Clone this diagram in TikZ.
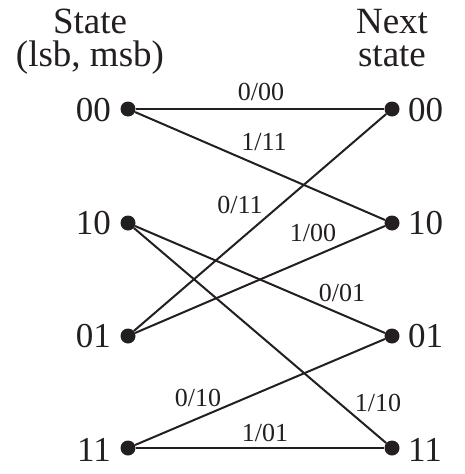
\documentclass[tikz,border=0pt]{standalone}
\usepackage{fontspec}
\setmainfont{Liberation Serif}
\usepackage{tikz}
\usetikzlibrary{positioning,calc}
\usepackage{xcolor}
\definecolor{ink}{RGB}{35, 31, 32}

\begin{document}
\begin{tikzpicture}[
    x=1pt, y=-1pt,
    dot/.style={circle, fill=ink, inner sep=0pt, minimum size=15pt},
    edge/.style={draw=ink, line width=2pt},
    statelbl/.style={font=\fontsize{35}{38}\selectfont, text=ink, inner sep=0pt},
    headlbl/.style={font=\fontsize{37}{40}\selectfont, text=ink, inner sep=0pt, anchor=base},
    lbl/.style={font=\fontsize{26}{28}\selectfont, text=ink, inner sep=0pt, anchor=base},
]
\useasboundingbox (0,0) rectangle (464,474);

% === HEADERS ===
\node[headlbl] (hs1) at (90, 33) {State};
\node[headlbl] (hs2) at (90, 66.5) {(lsb, msb)};
\node[headlbl] (hn1) at (392, 33) {Next};
\node[headlbl] (hn2) at (392, 66.5) {state};

% === CURRENT STATES ===
\node[dot] (s00) at (128, 109) {};
\node[dot] (s10) at (128, 223) {};
\node[dot] (s01) at (128, 336) {};
\node[dot] (s11) at (128, 448) {};
\node[statelbl, anchor=base east] (t00) at (111, 121.5) {00};
\node[statelbl, anchor=base east] (t10) at (111, 234.5) {10};
\node[statelbl, anchor=base east] (t01) at (111, 347.5) {01};
\node[statelbl, anchor=base east] (t11) at (111, 461) {11};

% === NEXT STATES ===
\node[dot] (n00) at (392, 109) {};
\node[dot] (n10) at (392, 223) {};
\node[dot] (n01) at (392, 336) {};
\node[dot] (n11) at (392, 448) {};
\node[statelbl, anchor=base west] (u00) at (408, 121.5) {00};
\node[statelbl, anchor=base west] (u10) at (408, 234.5) {10};
\node[statelbl, anchor=base west] (u01) at (408, 347.5) {01};
\node[statelbl, anchor=base west] (u11) at (408, 461) {11};

% === TRANSITIONS ===
\draw[edge] (s00) -- (n00);
\draw[edge] (s00) -- (n10);
\draw[edge] (s01) -- (n00);
\draw[edge] (s01) -- (n10);
\draw[edge] (s10) -- (n01);
\draw[edge] (s10) -- (n11);
\draw[edge] (s11) -- (n01);
\draw[edge] (s11) -- (n11);

% Input/output labels
\node[lbl] (l0000) at (261, 100) {0/00};
\node[lbl] (l1011) at (264, 150) {1/11};
\node[lbl] (l0111) at (240, 213) {0/11};
\node[lbl] (l0100) at (313, 241) {1/00};
\node[lbl] (l1001) at (342, 301.5) {0/01};
\node[lbl] (l1110) at (198, 406.5) {0/10};
\node[lbl] (l1010) at (378, 411.5) {1/10};
\node[lbl] (l1101) at (265, 441.5) {1/01};

\end{tikzpicture}
\end{document}
